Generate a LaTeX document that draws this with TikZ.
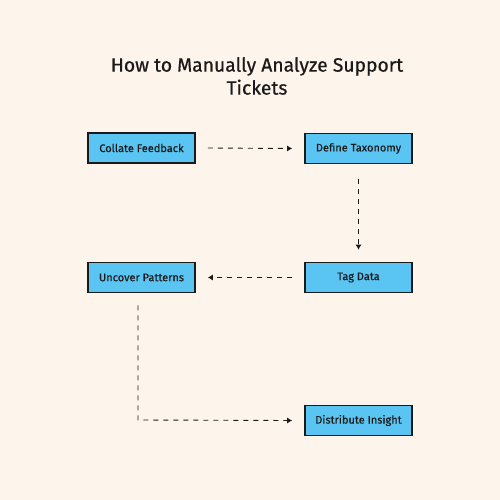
\documentclass[tikz,border=0pt]{standalone}
\usepackage{fontspec}
\setmainfont{Fira Sans}
\newfontfamily\heavyfont[FakeBold=0.6]{Fira Sans}
\newfontfamily\boxfont[FakeBold=0.3]{Fira Sans}
\usetikzlibrary{arrows.meta}
\definecolor{bg}{HTML}{FDF4EB}
\definecolor{boxfill}{HTML}{5AC5F2}
\definecolor{ink}{HTML}{1A1A1A}
\tikzset{
  stepbox/.style={draw=ink, line width=1.6pt, fill=boxfill, minimum width=107pt, minimum height=30pt, inner sep=0pt, font=\boxfont\fontsize{11}{13}\selectfont, text=ink},
  flow/.style={draw=ink, line width=0.9pt, dash pattern=on 5pt off 5pt, -{Latex[length=5pt,width=6pt]}},
}
\begin{document}
\begin{tikzpicture}[x=1pt,y=-1pt]
\useasboundingbox[fill=bg] (0,0) rectangle (500,500);
\node[font=\heavyfont\fontsize{19.3}{23}\selectfont, text=ink, align=center] (title) at (257,76) {How to Manually Analyze Support\\Tickets};
\node[stepbox] (collate) at (141.5,148) {Collate Feedback};
\node[stepbox] (define) at (358.5,148.5) {Define Taxonomy};
\node[stepbox] (tag) at (358.5,277.5) {Tag Data};
\node[stepbox] (uncover) at (141.5,277.5) {Uncover Patterns};
\node[stepbox] (distribute) at (358.5,420.5) {Distribute Insight};
\coordinate (corner) at (138,420);
\draw[flow] ([xshift=12pt]collate.east) -- ([xshift=-12pt]define.west);
\draw[flow] ([yshift=-15pt]define.south) -- ([yshift=12pt]tag.north);
\draw[flow] ([xshift=-12pt]tag.west) -- ([xshift=12pt]uncover.west -| uncover.east);
\draw[flow] ([xshift=-3.5pt,yshift=-12pt]uncover.south) -- (corner) -- ([xshift=-12pt]distribute.west);
\end{tikzpicture}
\end{document}
